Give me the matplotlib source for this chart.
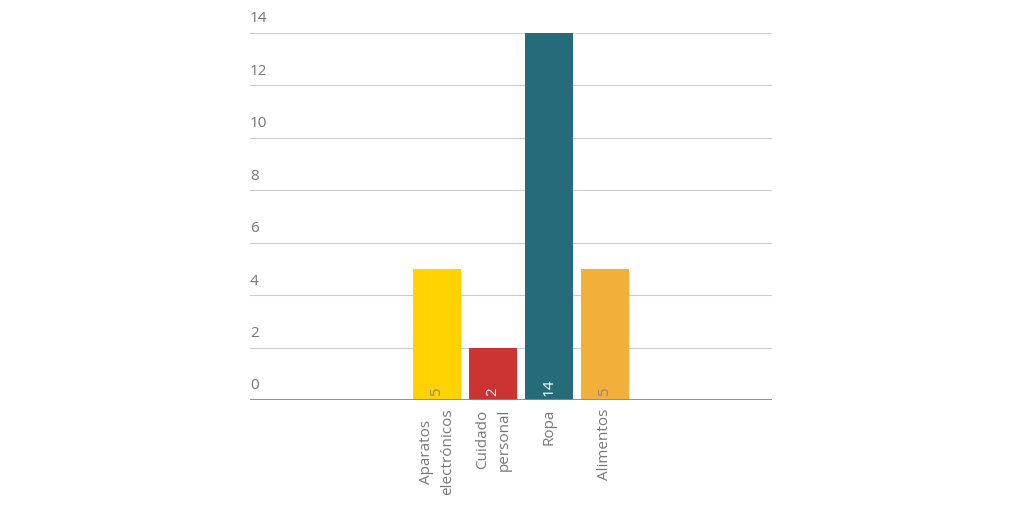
import matplotlib
matplotlib.use("Agg")
import matplotlib.pyplot as plt

categories = ["Aparatos\nelectrónicos", "Cuidado\npersonal", "Ropa", "Alimentos"]
values = [5, 2, 14, 5]
colors = ["#FFD200", "#CC3333", "#256B7A", "#F2B03A"]
label_colors = ["#888888", "#FFFFFF", "#FFFFFF", "#888888"]
yticks = [0, 2, 4, 6, 8, 10, 12, 14]

plt.rcParams['font.family'] = ['Open Sans', 'DejaVu Sans']
fig = plt.figure(figsize=(10.24, 5.12), dpi=100)
ax = fig.add_axes([250/1024, 1-400/512, 522/1024, (400-33)/512])
x = list(range(len(categories)))
ax.bar(x, values, width=48/56, color=colors, zorder=3)
for xi, v, lc in zip(x, values, label_colors):
    ax.text(xi, 0.15, str(v), rotation=90, ha='center', va='bottom', color=lc, fontsize=11, zorder=4)
ax.set_xlim(-187/56, 3 + 167/56)
ax.set_ylim(0, 14)
ax.set_yticks(yticks)
ax.set_yticklabels([])
for t in yticks:
    ax.axhline(t, color='#CCCCCC', lw=0.8, zorder=1)
    ax.text(-187/56, t + 0.25, str(t), ha='left', va='bottom', color='#777777', fontsize=11)
ax.axhline(0, color='#888888', lw=2, zorder=5)
ax.set_xticks(x)
ax.set_xticklabels(categories, rotation=90, color='#777777', fontsize=11, linespacing=1.6)
ax.tick_params(length=0, pad=6)
for s in ax.spines.values():
    s.set_visible(False)
fig.savefig("out.png", dpi=100)
